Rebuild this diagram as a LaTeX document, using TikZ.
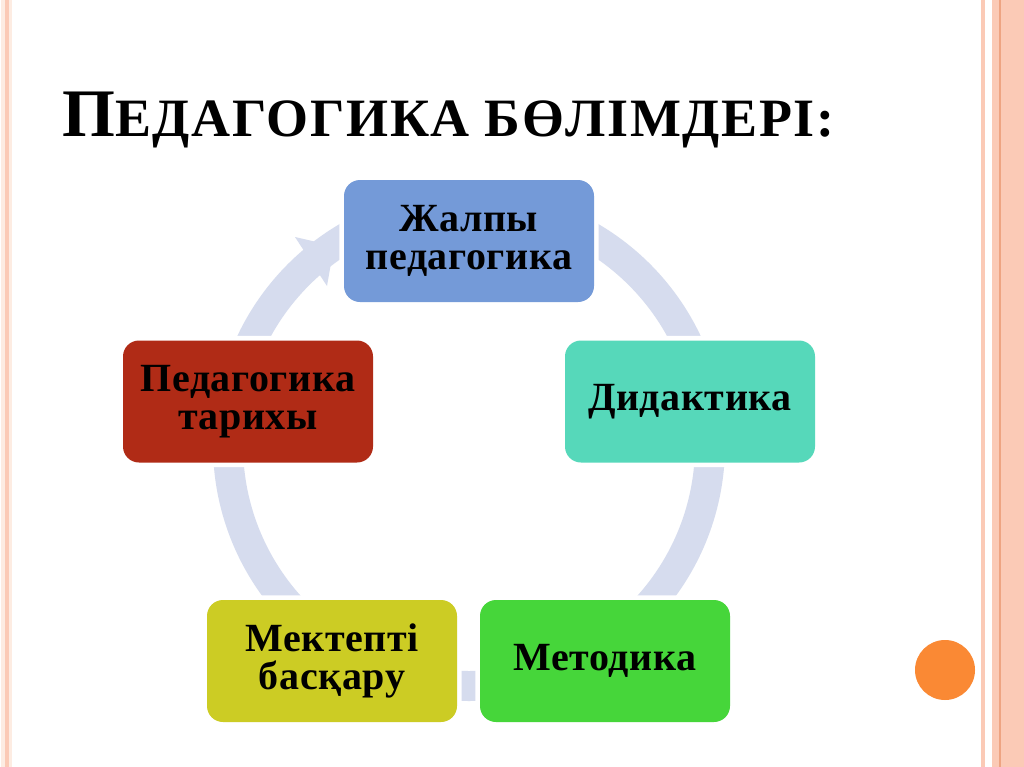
\documentclass[tikz,border=0pt]{standalone}
\usepackage{fontspec}
\setmainfont{Liberation Serif}
\definecolor{cblue}{RGB}{116,154,216}
\definecolor{cturq}{RGB}{86,216,186}
\definecolor{cgreen}{RGB}{70,214,58}
\definecolor{colive}{RGB}{204,204,36}
\definecolor{cred}{RGB}{176,43,22}
\definecolor{cring}{RGB}{214,220,238}
\definecolor{corange}{RGB}{250,137,52}
\definecolor{cpeach}{RGB}{251,202,182}
\definecolor{cpeachdark}{RGB}{238,164,130}
\definecolor{cpeachlight}{RGB}{253,236,226}
\begin{document}
\begin{tikzpicture}[x=0.75pt,y=-0.75pt,
  box/.style={rounded corners=12pt, minimum width=187.5pt, minimum height=91.5pt,
    inner sep=0pt, align=center, text=black,
    font=\bfseries\fontsize{30}{28}\selectfont\addfontfeature{LetterSpace=1.5},
    preaction={draw=white, line width=7pt}},
  ring/.style={draw=cring, line width=22.5pt},
  title/.style={anchor=base west, inner sep=0pt, font=\bfseries\addfontfeature{LetterSpace=3}}]
\useasboundingbox (0,0) rectangle (1024,767);
\fill[white] (0,0) rectangle (1024,767);
% slide border stripes
\fill[cpeachlight] (1,0) rectangle (12,767);
\fill[cpeach] (5,0) rectangle (9,767);
\fill[cpeach] (981,0) rectangle (985,767);
\fill[cpeach] (992,0) rectangle (1024,767);
\fill[cpeachdark] (999.3,0) rectangle (1000.8,767);
% orange dot
\fill[corange] (945,670) circle[radius=22.5pt];
% title
\node[title] (title) at (62,137) {{\fontsize{51}{51}\selectfont П}{\fontsize{40.5}{40}\selectfont ЕДАГОГИКА БӨЛІМДЕРІ:}};
% ring and arrow head
\draw[ring] (469,445) circle[radius=180.75pt];
\fill[cring] (295,237) -- (334,246) -- (327,286) -- cycle;
% boxes
\node[box, fill=cblue]  (b1) at (469,241)   {Жалпы\\педагогика};
\node[box, fill=cturq]  (b2) at (690,401.5) {Дидактика};
\node[box, fill=cgreen] (b3) at (605,661)   {Методика};
\node[box, fill=colive] (b4) at (332,661)   {Мектепті\\басқару};
\node[box, fill=cred]   (b5) at (248,401.5) {Педагогика\\тарихы};
\end{tikzpicture}
\end{document}
